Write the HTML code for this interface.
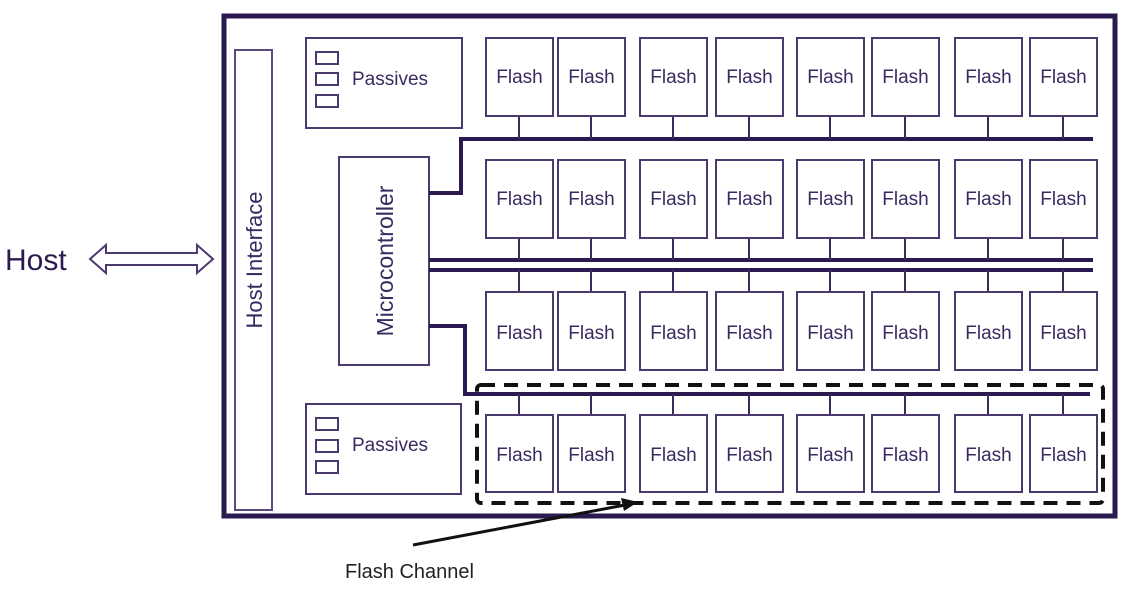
<!DOCTYPE html><html><head><style>body{margin:0;background:#fff}</style></head><body>
<svg width="1133" height="586" xmlns="http://www.w3.org/2000/svg" font-family="Liberation Sans, sans-serif">
<rect x="224" y="16" width="891" height="500" fill="none" stroke="#2a1a50" stroke-width="5"/>
<rect x="235" y="50" width="37" height="460" fill="none" stroke="#5a4a80" stroke-width="2"/>
<text transform="translate(262,260) rotate(-90)" text-anchor="middle" font-size="22" fill="#3a2a60">Host Interface</text>
<g fill="none" stroke="#4a3a70" stroke-width="2">
<rect x="306" y="38" width="156" height="90"/><rect x="306" y="404" width="155" height="90"/>
<rect x="339" y="157" width="90" height="208"/>
<rect x="316" y="52" width="22" height="12"/><rect x="316" y="73" width="22" height="12"/><rect x="316" y="95" width="22" height="12"/>
<rect x="316" y="418" width="22" height="12"/><rect x="316" y="440" width="22" height="12"/><rect x="316" y="461" width="22" height="12"/>
</g>
<text x="352" y="85" font-size="19" fill="#3a2a60">Passives</text>
<text x="352" y="451" font-size="19" fill="#3a2a60">Passives</text>
<text transform="translate(393,261) rotate(-90)" text-anchor="middle" font-size="23" fill="#3a2a60">Microcontroller</text>
<g fill="none" stroke="#2a1a50" stroke-width="4">
<polyline points="429,193 461,193 461,139 1093,139"/>
<line x1="429" y1="260" x2="1093" y2="260"/><line x1="429" y1="270" x2="1093" y2="270"/>
<polyline points="429,326 465,326 465,394 1090,394"/>
</g>
<g id="f">
</g>
<g fill="#fff" stroke="#4a3a70" stroke-width="2" font-size="19">
</g>
<g stroke="#4a3a70" stroke-width="2" fill="none">
<script>/* none */</script>
</g>
<g stroke="#3a2a60" stroke-width="2" fill="none">
<path d="M519 116V139M591 116V139M673 116V139M749 116V139M830 116V139M905 116V139M988 116V139M1063 116V139"/>
<path d="M519 238V260M591 238V260M673 238V260M749 238V260M830 238V260M905 238V260M988 238V260M1063 238V260"/>
<path d="M519 270V292M591 270V292M673 270V292M749 270V292M830 270V292M905 270V292M988 270V292M1063 270V292"/>
<path d="M519 394V415M591 394V415M673 394V415M749 394V415M830 394V415M905 394V415M988 394V415M1063 394V415"/>
</g>
<g fill="#fff" stroke="#4a3a70" stroke-width="2">
<rect x="486" y="38" width="67" height="78"/><rect x="558" y="38" width="67" height="78"/><rect x="640" y="38" width="67" height="78"/><rect x="716" y="38" width="67" height="78"/><rect x="797" y="38" width="67" height="78"/><rect x="872" y="38" width="67" height="78"/><rect x="955" y="38" width="67" height="78"/><rect x="1030" y="38" width="67" height="78"/>
<rect x="486" y="160" width="67" height="78"/><rect x="558" y="160" width="67" height="78"/><rect x="640" y="160" width="67" height="78"/><rect x="716" y="160" width="67" height="78"/><rect x="797" y="160" width="67" height="78"/><rect x="872" y="160" width="67" height="78"/><rect x="955" y="160" width="67" height="78"/><rect x="1030" y="160" width="67" height="78"/>
<rect x="486" y="292" width="67" height="78"/><rect x="558" y="292" width="67" height="78"/><rect x="640" y="292" width="67" height="78"/><rect x="716" y="292" width="67" height="78"/><rect x="797" y="292" width="67" height="78"/><rect x="872" y="292" width="67" height="78"/><rect x="955" y="292" width="67" height="78"/><rect x="1030" y="292" width="67" height="78"/>
<rect x="486" y="415" width="67" height="77"/><rect x="558" y="415" width="67" height="77"/><rect x="640" y="415" width="67" height="77"/><rect x="716" y="415" width="67" height="77"/><rect x="797" y="415" width="67" height="77"/><rect x="872" y="415" width="67" height="77"/><rect x="955" y="415" width="67" height="77"/><rect x="1030" y="415" width="67" height="77"/>
</g>
<g font-size="19" fill="#3a2a60" text-anchor="middle">
<text x="519.5" y="83">Flash</text><text x="591.5" y="83">Flash</text><text x="673.5" y="83">Flash</text><text x="749.5" y="83">Flash</text><text x="830.5" y="83">Flash</text><text x="905.5" y="83">Flash</text><text x="988.5" y="83">Flash</text><text x="1063.5" y="83">Flash</text>
<text x="519.5" y="205">Flash</text><text x="591.5" y="205">Flash</text><text x="673.5" y="205">Flash</text><text x="749.5" y="205">Flash</text><text x="830.5" y="205">Flash</text><text x="905.5" y="205">Flash</text><text x="988.5" y="205">Flash</text><text x="1063.5" y="205">Flash</text>
<text x="519.5" y="339">Flash</text><text x="591.5" y="339">Flash</text><text x="673.5" y="339">Flash</text><text x="749.5" y="339">Flash</text><text x="830.5" y="339">Flash</text><text x="905.5" y="339">Flash</text><text x="988.5" y="339">Flash</text><text x="1063.5" y="339">Flash</text>
<text x="519.5" y="461">Flash</text><text x="591.5" y="461">Flash</text><text x="673.5" y="461">Flash</text><text x="749.5" y="461">Flash</text><text x="830.5" y="461">Flash</text><text x="905.5" y="461">Flash</text><text x="988.5" y="461">Flash</text><text x="1063.5" y="461">Flash</text>
</g>
<rect x="477" y="385" width="626" height="118" rx="4" fill="none" stroke="#111" stroke-width="4" stroke-dasharray="14,9"/>
<line x1="413" y1="545" x2="625" y2="505" stroke="#111" stroke-width="3"/>
<polygon points="638,502 621,498 624,511" fill="#111"/>
<text x="345" y="578" font-size="20" fill="#222">Flash Channel</text>
<text x="5" y="270" font-size="30" fill="#2a1a50">Host</text>
<polygon points="90,259 106,245 106,253 197,253 197,245 213,259 197,273 197,265 106,265 106,273" fill="#fff" stroke="#4a3a70" stroke-width="2"/>
</svg></body></html>
